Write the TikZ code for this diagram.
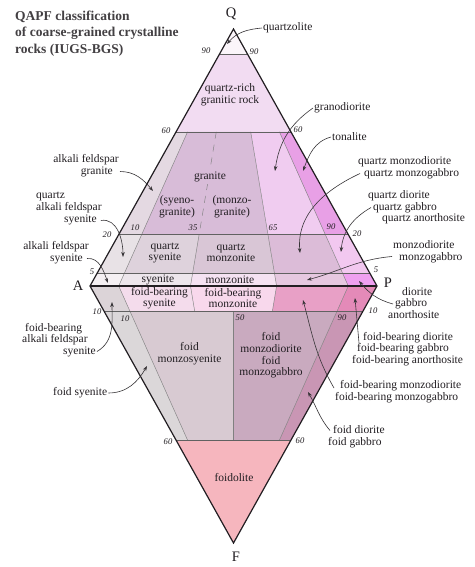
\documentclass[tikz,border=0pt]{standalone}
\usepackage{fontspec}
\setmainfont{Liberation Serif}
\usetikzlibrary{arrows.meta}
\definecolor{inkc}{RGB}{34,30,34}
\definecolor{qzolite}{RGB}{251,245,250}
\definecolor{qrich}{RGB}{242,220,242}
\definecolor{afgranite}{RGB}{228,217,226}
\definecolor{granite}{RGB}{216,188,216}
\definecolor{granodior}{RGB}{240,204,240}
\definecolor{tonalite}{RGB}{232,160,230}
\definecolor{qafsyen}{RGB}{232,226,230}
\definecolor{qsyen}{RGB}{222,210,220}
\definecolor{qmonzon}{RGB}{217,198,214}
\definecolor{qmonzodior}{RGB}{220,188,216}
\definecolor{qdior}{RGB}{242,200,240}
\definecolor{afsyen}{RGB}{245,240,243}
\definecolor{syen}{RGB}{237,230,236}
\definecolor{monzon}{RGB}{245,226,242}
\definecolor{monzodior}{RGB}{230,200,224}
\definecolor{dior}{RGB}{239,160,240}
\definecolor{fbafsyen}{RGB}{220,212,216}
\definecolor{fbsyen}{RGB}{244,220,236}
\definecolor{fbmonzon}{RGB}{248,216,236}
\definecolor{fbmonzodior}{RGB}{232,160,198}
\definecolor{fbdior}{RGB}{228,138,184}
\definecolor{fsyen}{RGB}{219,215,217}
\definecolor{fmonzosyen}{RGB}{216,202,210}
\definecolor{fmonzodior}{RGB}{201,170,191}
\definecolor{fdior}{RGB}{201,150,180}
\definecolor{foidolite}{RGB}{246,182,190}
\begin{document}
\begin{tikzpicture}[x=1pt, y=-1pt,
    lbl/.style={font=\fontsize{11.5}{11.6}\selectfont, text=inkc, inner sep=1pt, align=left},
    fld/.style={lbl, align=center, inner sep=0pt},
    num/.style={font=\fontsize{8.6}{9}\selectfont\itshape, text=inkc, inner sep=0pt},
    vtx/.style={font=\fontsize{14.5}{15}\selectfont, text=inkc, inner sep=0pt},
    pointer/.style={draw=inkc!90, line width=0.6pt, -{Stealth[length=5pt,width=3.6pt]}},
    rim/.style={draw=inkc, line width=1.2pt, line join=miter},
    divide/.style={draw=black!50, line width=0.45pt},
    level/.style={draw=black!62, line width=0.55pt}]
\fill[white] (0,0) rectangle (474,567);
\useasboundingbox (0,0) rectangle (474,567);
\coordinate (Q) at (233.5,29);
\coordinate (A) at (90,286);
\coordinate (P) at (377,286);
\coordinate (F) at (233.5,543);
% QAP
\fill[qzolite] (Q) -- (219.2,54.7) -- (247.9,54.7) -- cycle;
\fill[qrich] (219.2,54.7) -- (247.9,54.7) -- (290.9,131.8) -- (176.1,131.8) -- cycle;
\fill[afgranite] (176.1,131.8) -- (187.6,131.8) -- (141.7,234.6) -- (118.7,234.6) -- cycle;
\fill[granite] (187.6,131.8) -- (250.7,131.8) -- (267.9,234.6) -- (141.7,234.6) -- cycle;
\fill[granodior] (250.7,131.8) -- (279.4,131.8) -- (325.3,234.6) -- (267.9,234.6) -- cycle;
\fill[tonalite] (279.4,131.8) -- (290.9,131.8) -- (348.3,234.6) -- (325.3,234.6) -- cycle;
\fill[qafsyen] (118.7,234.6) -- (141.7,234.6) -- (124.4,273.2) -- (97.2,273.2) -- cycle;
\fill[qsyen] (141.7,234.6) -- (199.1,234.6) -- (192.6,273.2) -- (124.4,273.2) -- cycle;
\fill[qmonzon] (199.1,234.6) -- (267.9,234.6) -- (274.4,273.2) -- (192.6,273.2) -- cycle;
\fill[qmonzodior] (267.9,234.6) -- (325.3,234.6) -- (342.6,273.2) -- (274.4,273.2) -- cycle;
\fill[qdior] (325.3,234.6) -- (348.3,234.6) -- (369.8,273.2) -- (342.6,273.2) -- cycle;
\fill[afsyen] (97.2,273.2) -- (124.4,273.2) -- (118.7,286) -- (A) -- cycle;
\fill[syen] (124.4,273.2) -- (192.6,273.2) -- (190.5,286) -- (118.7,286) -- cycle;
\fill[monzon] (192.6,273.2) -- (274.4,273.2) -- (276.6,286) -- (190.5,286) -- cycle;
\fill[monzodior] (274.4,273.2) -- (342.6,273.2) -- (348.3,286) -- (276.6,286) -- cycle;
\fill[dior] (342.6,273.2) -- (369.8,273.2) -- (P) -- (348.3,286) -- cycle;
% APF
\fill[fbafsyen] (A) -- (118.7,286) -- (130.2,311.7) -- (104.4,311.7) -- cycle;
\fill[fbsyen] (118.7,286) -- (190.5,286) -- (194.8,311.7) -- (130.2,311.7) -- cycle;
\fill[fbmonzon] (190.5,286) -- (276.6,286) -- (272.3,311.7) -- (194.8,311.7) -- cycle;
\fill[fbmonzodior] (276.6,286) -- (348.3,286) -- (336.8,311.7) -- (272.3,311.7) -- cycle;
\fill[fbdior] (348.3,286) -- (P) -- (362.7,311.7) -- (336.8,311.7) -- cycle;
\fill[fsyen] (104.4,311.7) -- (130.2,311.7) -- (187.6,440.2) -- (176.1,440.2) -- cycle;
\fill[fmonzosyen] (130.2,311.7) -- (233.5,311.7) -- (233.5,440.2) -- (187.6,440.2) -- cycle;
\fill[fmonzodior] (233.5,311.7) -- (336.8,311.7) -- (279.4,440.2) -- (233.5,440.2) -- cycle;
\fill[fdior] (336.8,311.7) -- (362.7,311.7) -- (290.9,440.2) -- (279.4,440.2) -- cycle;
\fill[foidolite] (176.1,440.2) -- (290.9,440.2) -- (F) -- cycle;
\draw[divide] (187.6,131.8) -- (118.7,286);
\draw[divide] (250.7,131.8) -- (276.6,286);
\draw[divide] (279.4,131.8) -- (348.3,286);
\draw[divide] (199.1,234.6) -- (190.5,286);
\draw[divide, dash pattern=on 7pt off 6pt] (216.3,131.8) -- (199.1,234.6);
\draw[divide] (118.7,286) -- (187.6,440.2);
\draw[divide] (190.5,286) -- (194.8,311.7);
\draw[divide] (276.6,286) -- (272.3,311.7);
\draw[divide] (348.3,286) -- (279.4,440.2);
\draw[divide] (233.5,311.7) -- (233.5,440.2);
\draw[level] (219.2,54.7) -- (247.9,54.7);
\draw[level] (176.1,131.8) -- (290.9,131.8);
\draw[level] (118.7,234.6) -- (348.3,234.6);
\draw[level] (97.2,273.2) -- (369.8,273.2);
\draw[level] (104.4,311.7) -- (362.7,311.7);
\draw[level] (176.1,440.2) -- (290.9,440.2);
\draw[rim] (A) -- (P);
\draw[rim] (Q) -- (P) -- (F) -- (A) -- cycle;
\node[anchor=west, align=left, font=\fontsize{13.5}{16.6}\selectfont\bfseries, text=inkc!85, inner sep=0pt] (title) at (15,33.5) {QAPF classification\\of coarse-grained crystalline\\rocks (IUGS-BGS)};
\node[vtx] (lQ) at (231,14) {Q};
\node[vtx] (lA) at (78,286) {A};
\node[vtx] (lP) at (388,283) {P};
\node[vtx] (lF) at (236,557) {F};
\foreach \v/\x/\y [count=\k] in {90/206/51, 90/254/52, 60/166/131, 60/298/130,
    20/107/235, 20/357/234, 5/92/272, 5/376/270, 10/135/228, 35/193/228,
    65/273/228, 90/331/227, 10/97/312, 10/373/311, 10/125/319, 50/240/318,
    90/342/318, 60/168/442, 60/300/441}
  \node[num] (pct\k) at (\x,\y) {\v};
\node[fld] (qrichl) at (230,95) {quartz-rich\\granitic rock};
\node[fld, fill=granite, inner sep=1.5pt] (granl) at (210,177) {granite};
\node[fld] (syenogr) at (177,206.5) {(syeno-\\granite)};
\node[fld] (monzogr) at (232,206.5) {(monzo-\\granite)};
\node[fld] (qsyenl) at (165,253) {quartz\\syenite};
\node[fld] (qmonzl) at (231,253) {quartz\\monzonite};
\node[fld] (syenl) at (158,280) {syenite};
\node[fld] (monzl) at (230,279.5) {monzonite};
\node[fld] (fbsyenl) at (159.5,298) {foid-bearing\\syenite};
\node[fld] (fbmonzl) at (233,298) {foid-bearing\\monzonite};
\node[fld] (fmsyenl) at (189.5,353.5) {foid\\monzosyenite};
\node[fld] (fmdiorl) at (271,355.5) {foid\\monzodiorite\\foid\\monzogabbro};
\node[fld] (foidl) at (234,478) {foidolite};
\node[lbl, anchor=west] (qzl) at (262,28) {quartzolite};
\node[lbl, anchor=west] (gdl) at (313,108) {granodiorite};
\node[lbl, anchor=west] (tnl) at (331,137) {tonalite};
\node[lbl, anchor=west] (qmdl) at (357,167.5) {quartz monzodiorite\\\hspace*{6pt}quartz monzogabbro};
\node[lbl, anchor=west] (qdl) at (367,207.5) {quartz diorite\\\hspace*{5pt}quartz gabbro\\\hspace*{14pt}quartz anorthosite};
\node[lbl, anchor=west] (mdl) at (392,251.5) {monzodiorite\\\hspace*{6pt}monzogabbro};
\node[lbl, anchor=west] (dl) at (387,303) {\hspace*{14pt}diorite\\\hspace*{7pt}gabbro\\anorthosite};
\node[lbl, anchor=west] (fbdl) at (351,349) {\hspace*{11pt}foid-bearing diorite\\\hspace*{5pt}foid-bearing gabbro\\foid-bearing anorthosite};
\node[lbl, anchor=west] (fbmdl) at (334,391.5) {\hspace*{5pt}foid-bearing monzodiorite\\foid-bearing monzogabbro};
\node[lbl, anchor=west] (fdl) at (327,436.5) {\hspace*{5pt}foid diorite\\foid gabbro};
\node[lbl, anchor=east, align=right] (afgl) at (120,165.5) {alkali feldspar\\granite\hspace*{6pt}};
\node[lbl, anchor=west] (qafsl) at (35,208.5) {quartz\\alkali feldspar\\\hspace*{28pt}syenite};
\node[lbl, anchor=east, align=right] (afsl) at (90,252.5) {alkali feldspar\\syenite\hspace*{6pt}};
\node[lbl, anchor=west] (fbafsl) at (21,340) {\hspace*{3pt}foid-bearing\\alkali feldspar\\\hspace*{41pt}syenite};
\node[lbl, anchor=west] (fsl) at (52,393) {foid syenite};
\coordinate (qzt) at (227,44);
\coordinate (gdt) at (275,171);
\coordinate (tnt) at (303,171);
\coordinate (qmdt) at (300,253);
\coordinate (qdt) at (341,252);
\coordinate (mdt) at (307,280);
\coordinate (dt) at (359,281);
\coordinate (fbdt) at (355,298);
\coordinate (fbmdt) at (303,300);
\coordinate (fdt) at (308,392);
\coordinate (afgt) at (153,191);
\coordinate (qafst) at (123,257);
\coordinate (afst) at (108,283);
\coordinate (fbafst) at (112,302);
\coordinate (fst) at (147,366);
\draw[pointer] (qzl.west) to[out=185,in=50] (qzt);
\draw[pointer] (gdl.west) to[out=215,in=82] (gdt);
\draw[pointer] (tnl.west) to[out=195,in=70] (tnt);
\draw[pointer] ([shift={(3pt,-6pt)}]qmdl.west) to[out=205,in=95] (qmdt);
\draw[pointer] ([xshift=4pt]qdl.west) to[out=210,in=85] (qdt);
\draw[pointer] ([yshift=-5pt]mdl.west) to[out=185,in=15] (mdt);
\draw[pointer] ([shift={(6pt,-1pt)}]dl.west) to[out=165,in=-50] (dt);
\draw[pointer] ([shift={(8pt,6pt)}]fbdl.west) to[out=95,in=-85] (fbdt);
\draw[pointer] ([yshift=3.5pt]fbmdl.west) to[out=120,in=-75] (fbmdt);
\draw[pointer] ([shift={(3pt,6pt)}]fdl.west) to[out=130,in=-60] (fdt);
\draw[pointer] ([yshift=-6pt]afgl.east) to[out=0,in=130] (afgt);
\draw[pointer] ([shift={(-2pt,-12pt)}]qafsl.east) to[out=10,in=90] (qafst);
\draw[pointer] ([shift={(-3pt,-6pt)}]afsl.east) to[out=5,in=110] (afst);
\draw[pointer] ([yshift=-11.5pt]fbafsl.east) to[out=30,in=-90] (fbafst);
\draw[pointer] (fsl.east) to[out=0,in=-120] (fst);
\end{tikzpicture}
\end{document}
